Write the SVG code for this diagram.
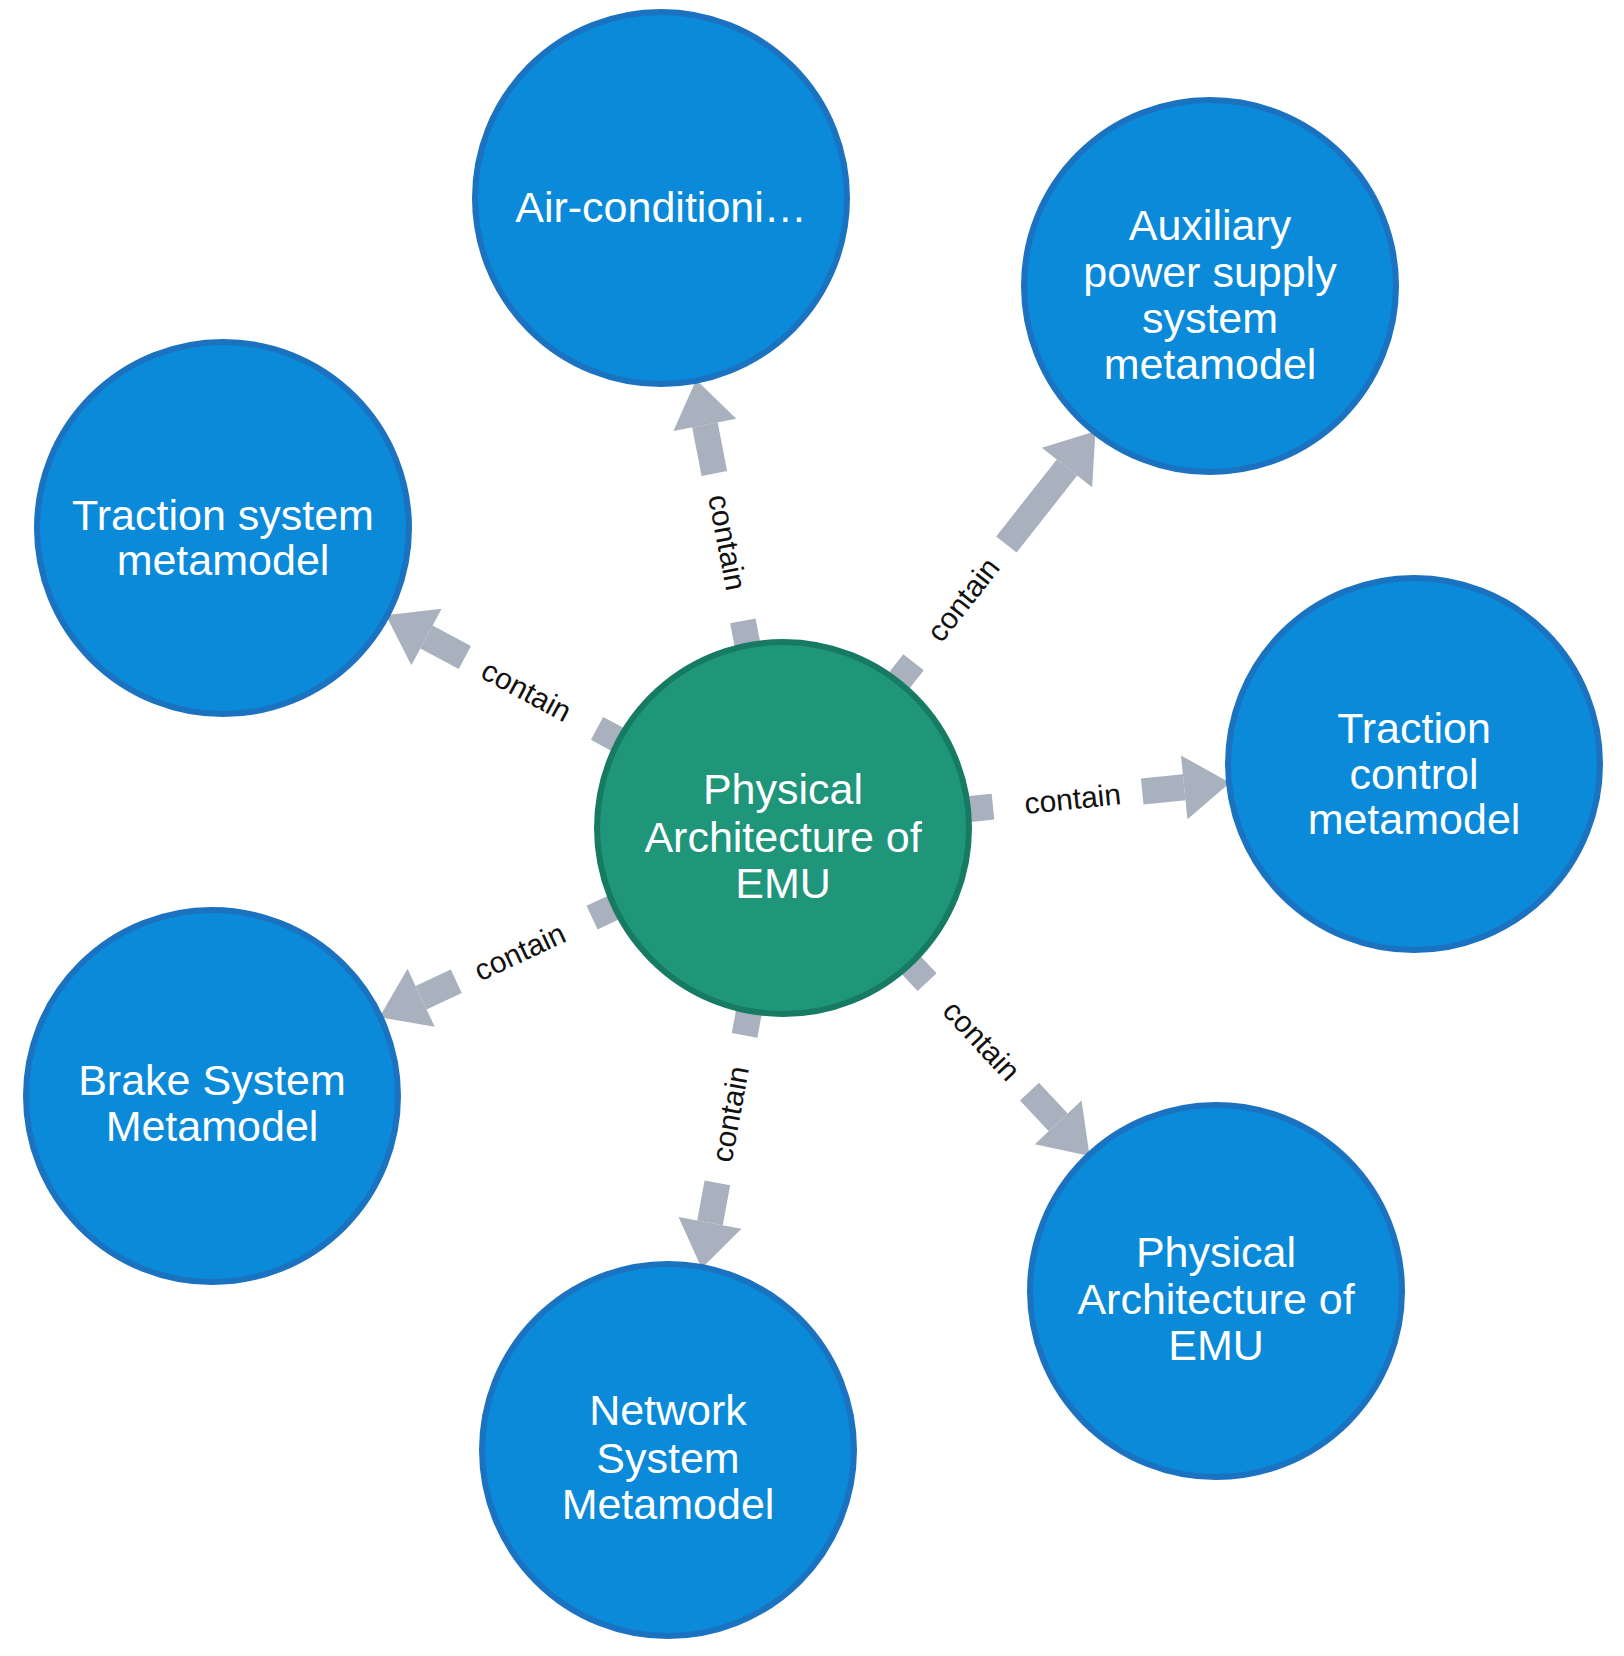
<svg xmlns="http://www.w3.org/2000/svg" width="1624" height="1656" viewBox="0 0 1624 1656">
<style>
.n{fill:#0a8ad8;stroke:#1a72c0;stroke-width:6}
.c{fill:#1f957a;stroke:#177a63;stroke-width:6}
.t{fill:#fff;font-family:"Liberation Sans",Arial,sans-serif;font-size:43px;text-anchor:middle}
.e{stroke:#a8b1bd;stroke-width:26;fill:none;marker-end:url(#ah)}
.l{fill:#111;font-family:"Liberation Sans",Arial,sans-serif;font-size:30px;text-anchor:middle}
</style>
<defs><marker id="ah" markerUnits="userSpaceOnUse" markerWidth="60" markerHeight="70" refX="0" refY="32" orient="auto" overflow="visible"><path d="M0,0 L46,32 L0,64 z" fill="#a8b1bd"/></marker></defs>
<rect width="1624" height="1656" fill="#fff"/>
<g id="edges">
<line class="e" x1="747.6" y1="645.4" x2="704.9" y2="424.8" stroke-dasharray="25 150 600"/>
<line class="e" x1="898.1" y1="681.9" x2="1067" y2="467.5" stroke-dasharray="25 150 600"/>
<line class="e" x1="968.1" y1="809.2" x2="1184.2" y2="787.3" stroke-dasharray="25 150 600"/>
<line class="e" x1="910" y1="963.8" x2="1058.2" y2="1122.4" stroke-dasharray="25 150 600"/>
<line class="e" x1="749.1" y1="1010.8" x2="710" y2="1222.9" stroke-dasharray="25 150 600"/>
<line class="e" x1="614.7" y1="907" x2="421.1" y2="997.8" stroke-dasharray="25 150 600"/>
<line class="e" x1="619.1" y1="740.2" x2="426.5" y2="637" stroke-dasharray="25 150 600"/>
<text class="l" transform="translate(727.6,542.3) rotate(79)" dy="0.35em">contain</text>
<text class="l" transform="translate(963,599.4) rotate(-51.8)" dy="0.35em">contain</text>
<text class="l" transform="translate(1072.6,798.6) rotate(-5.8)" dy="0.35em">contain</text>
<text class="l" transform="translate(981.7,1040.5) rotate(46.9)" dy="0.35em">contain</text>
<text class="l" transform="translate(730,1114) rotate(-79.5)" dy="0.35em">contain</text>
<text class="l" transform="translate(519.7,951.6) rotate(-25.1)" dy="0.35em">contain</text>
<text class="l" transform="translate(526.6,690.6) rotate(28.2)" dy="0.35em">contain</text>
</g>
<g id="center"><circle class="c" cx="783" cy="828" r="186"/><text class="t"><tspan x="783" y="804">Physical</tspan><tspan x="783" y="852">Architecture of</tspan><tspan x="783" y="898">EMU</tspan></text></g>
<g id="air"><circle class="n" cx="661" cy="198" r="186"/><text class="t" x="661" y="222">Air-conditioni…</text></g>
<g id="aux"><circle class="n" cx="1210" cy="286" r="186"/><text class="t"><tspan x="1210" y="240">Auxiliary</tspan><tspan x="1210" y="287">power supply</tspan><tspan x="1210" y="333">system</tspan><tspan x="1210" y="379">metamodel</tspan></text></g>
<g id="tsys"><circle class="n" cx="223" cy="528" r="186"/><text class="t"><tspan x="223" y="530">Traction system</tspan><tspan x="223" y="575">metamodel</tspan></text></g>
<g id="tctl"><circle class="n" cx="1414" cy="764" r="186"/><text class="t"><tspan x="1414" y="743">Traction</tspan><tspan x="1414" y="789">control</tspan><tspan x="1414" y="834">metamodel</tspan></text></g>
<g id="brake"><circle class="n" cx="212" cy="1096" r="186"/><text class="t"><tspan x="212" y="1095">Brake System</tspan><tspan x="212" y="1141">Metamodel</tspan></text></g>
<g id="network"><circle class="n" cx="668" cy="1450" r="186"/><text class="t"><tspan x="668" y="1425">Network</tspan><tspan x="668" y="1473">System</tspan><tspan x="668" y="1519">Metamodel</tspan></text></g>
<g id="phys"><circle class="n" cx="1216" cy="1291" r="186"/><text class="t"><tspan x="1216" y="1267">Physical</tspan><tspan x="1216" y="1314">Architecture of</tspan><tspan x="1216" y="1360">EMU</tspan></text></g>
</svg>
